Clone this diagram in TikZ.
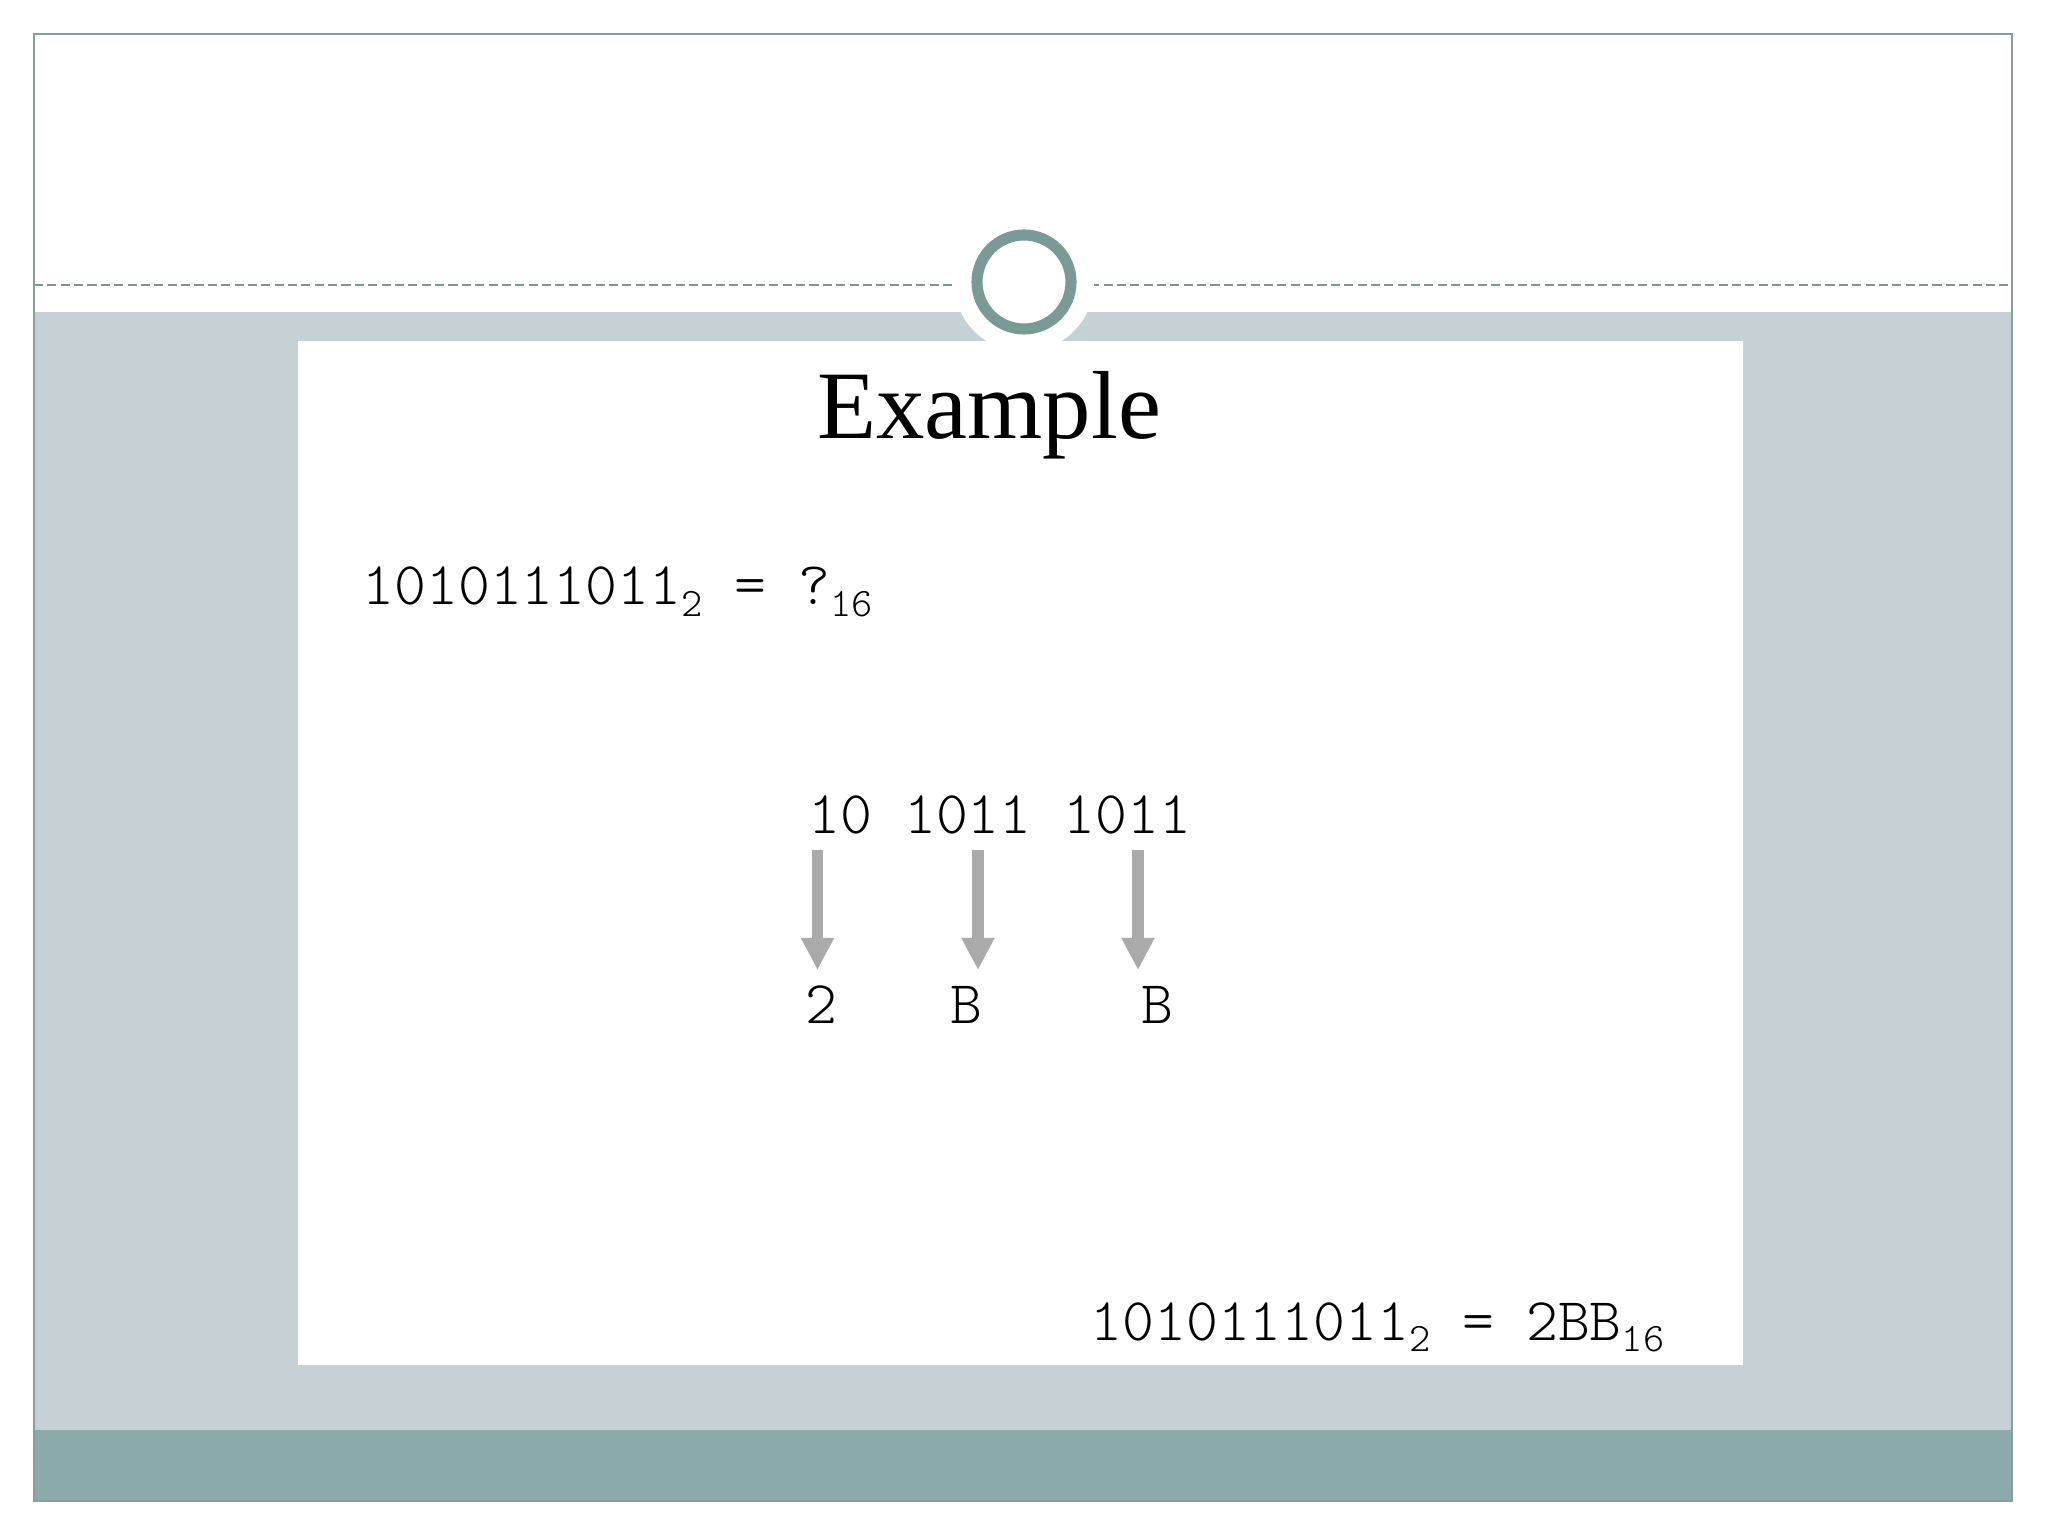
\documentclass[tikz,border=0pt]{standalone}
\usepackage{fontspec}
\setmainfont{Liberation Serif}
\newfontfamily\cour{Latin Modern Mono Light}
\usetikzlibrary{arrows.meta}
\definecolor{bandgray}{RGB}{197,209,213}
\definecolor{darkband}{RGB}{139,171,170}
\definecolor{ringcol}{RGB}{122,154,152}
\definecolor{framecol}{RGB}{135,158,155}
\definecolor{dashcol}{RGB}{128,148,146}
\definecolor{arrowgray}{RGB}{170,170,170}
\newcommand{\mysub}[1]{\raisebox{-4.2pt}{\fontsize{14.2}{16}\selectfont #1}}
\tikzset{
  monotext/.style={inner sep=0pt, anchor=base west, font=\cour\fontsize{21.35}{24}\selectfont},
  lbltext/.style={inner sep=0pt, anchor=base, font=\cour\fontsize{21.35}{24}\selectfont},
  titletext/.style={inner sep=0pt, anchor=base, font=\fontsize{34}{40}\selectfont},
  grayarrow/.style={draw=arrowgray, line width=3.9pt, -{Triangle[width=10.9pt,length=11.3pt]}}
}
\begin{document}
\begin{tikzpicture}[x=0.3515625pt,y=-0.3515625pt]
\useasboundingbox (0,0) rectangle (2048,1536);
\fill[white] (0,0) rectangle (2048,1536);
% slide background
\fill[bandgray] (34,312) rectangle (2012,1430);
\fill[darkband] (34,1430) rectangle (2012,1501);
\draw[dashcol, line width=0.55pt, dash pattern=on 3.2pt off 1.5pt] (34,285) -- (2012,285);
% circle with white halo
\fill[white] (1024,282) circle[radius=70];
\draw[ringcol, line width=3.9pt] (1024,282) circle[radius=47];
% white content box
\fill[white] (298,341) rectangle (1743,1365);
% frame
\draw[framecol, line width=0.8pt] (34,34) rectangle (2012,1501);
% title
\node[titletext] (title) at (989,439) {Example};
% first equation
\node[monotext] (eq1) at (362,605) {1010111011\mysub{2} = ?\mysub{16}};
% grouping row
\node[monotext] (groups) at (808,833) {10 1011 1011};
% arrows
\coordinate (a1s) at (817.5,850); \coordinate (a1e) at (817.5,970);
\coordinate (a2s) at (978,850);   \coordinate (a2e) at (978,970);
\coordinate (a3s) at (1138,850);  \coordinate (a3e) at (1138,970);
\draw[grayarrow] (a1s) -- (a1e);
\draw[grayarrow] (a2s) -- (a2e);
\draw[grayarrow] (a3s) -- (a3e);
% result digits
\node[lbltext] (d1) at (821,1023) {2};
\node[lbltext] (d2) at (966,1023) {B};
\node[lbltext] (d3) at (1157.5,1023) {B};
% final equation
\node[monotext] (eq2) at (1090,1340) {1010111011\mysub{2} = 2BB\mysub{16}};
\end{tikzpicture}
\end{document}
